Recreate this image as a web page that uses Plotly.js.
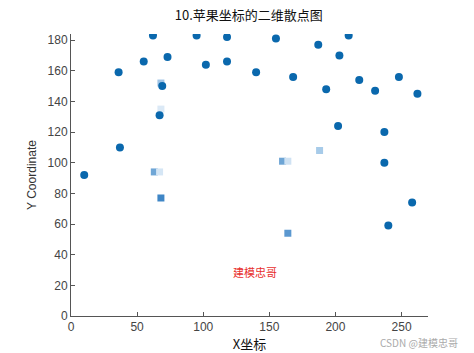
<!DOCTYPE html>
<html>
<head>
<meta charset="utf-8">
<script src="https://cdn.plot.ly/plotly-3.0.1.min.js"></script>
<style>html,body{margin:0;padding:0;background:#fff;}#chart{width:474px;height:353px;}</style>
</head>
<body>
<div id="chart"></div>
<script>
// Apple coordinates
const appleX = [10, 37, 36, 55, 62, 73, 67, 95, 102, 118, 118, 140, 155, 168, 187, 193, 203, 210, 218, 230, 248, 262, 237, 202, 237, 240, 258, 69];
const appleY = [92, 110, 159, 166, 183, 169, 131, 183, 164, 182, 166, 159, 181, 156, 177, 148, 170, 183, 154, 147, 156, 145, 120, 124, 100, 59, 74, 150];

// Faint square patches visible in the picture
const patchX = [68, 68, 63, 67, 68, 160, 164, 188, 164];
const patchY = [152, 135, 94, 94, 77, 101, 101, 108, 54];
const patchColor = ['#9fc4e6', '#dbe9f6', '#6fa6d6', '#d5e6f5', '#3f86c6', '#6ea5d5', '#cfe2f3', '#a7cbe9', '#5b98d0'];

const xTicks = [0, 50, 100, 150, 200, 250];
const yTicks = [0, 20, 40, 60, 80, 100, 120, 140, 160, 180];

const traces = [
  {
    x: patchX, y: patchY, type: 'scatter', mode: 'markers',
    marker: {symbol: 'square', size: 7, color: patchColor, line: {width: 0}},
    hoverinfo: 'skip', showlegend: false
  },
  {
    x: appleX, y: appleY, type: 'scatter', mode: 'markers',
    marker: {symbol: 'circle', size: 8, color: '#0a68ad', line: {width: 0}},
    showlegend: false
  }
];

const axisCommon = {
  showgrid: false, zeroline: false, showline: true, linecolor: '#555555', linewidth: 1,
  ticks: 'inside', ticklen: 4, tickcolor: '#555555',
  tickfont: {family: 'Liberation Sans, Arial, sans-serif', size: 12, color: '#444444'},
  mirror: false
};

const layout = {
  width: 474, height: 353,
  margin: {l: 71, r: 46, t: 34, b: 37},
  paper_bgcolor: '#ffffff', plot_bgcolor: '#ffffff',
  title: {text: '10.苹果坐标的二维散点图', x: 0.525, xanchor: 'center', y: 0.955, yanchor: 'middle',
          font: {family: 'Noto Sans CJK SC, sans-serif', size: 13, color: '#111111'}},
  xaxis: Object.assign({}, axisCommon, {
    range: [0, 270], tickvals: xTicks, ticktext: xTicks.map(String),
    title: {text: 'X坐标', standoff: 6, font: {family: 'Noto Sans CJK SC, sans-serif', size: 13, color: '#111111'}}
  }),
  yaxis: Object.assign({}, axisCommon, {
    range: [0, 184], tickvals: yTicks, ticktext: yTicks.map(String),
    title: {text: 'Y Coordinate', standoff: 8, font: {family: 'Liberation Sans, Arial, sans-serif', size: 12, color: '#333333'}}
  }),
  annotations: [
    {x: 139, y: 29, xref: 'x', yref: 'y', text: '建模忠哥', showarrow: false,
     font: {family: 'Noto Sans CJK SC, sans-serif', size: 11, color: '#e8302e'}},
    {x: 1.09, y: -0.095, xref: 'paper', yref: 'paper', xanchor: 'right', yanchor: 'middle',
     text: 'CSDN @建模忠哥', showarrow: false,
     font: {family: 'Noto Sans CJK SC, sans-serif', size: 10, color: '#aaaaaa'}}
  ]
};

Plotly.newPlot('chart', traces, layout, {staticPlot: true, displayModeBar: false});
</script>
</body>
</html>
